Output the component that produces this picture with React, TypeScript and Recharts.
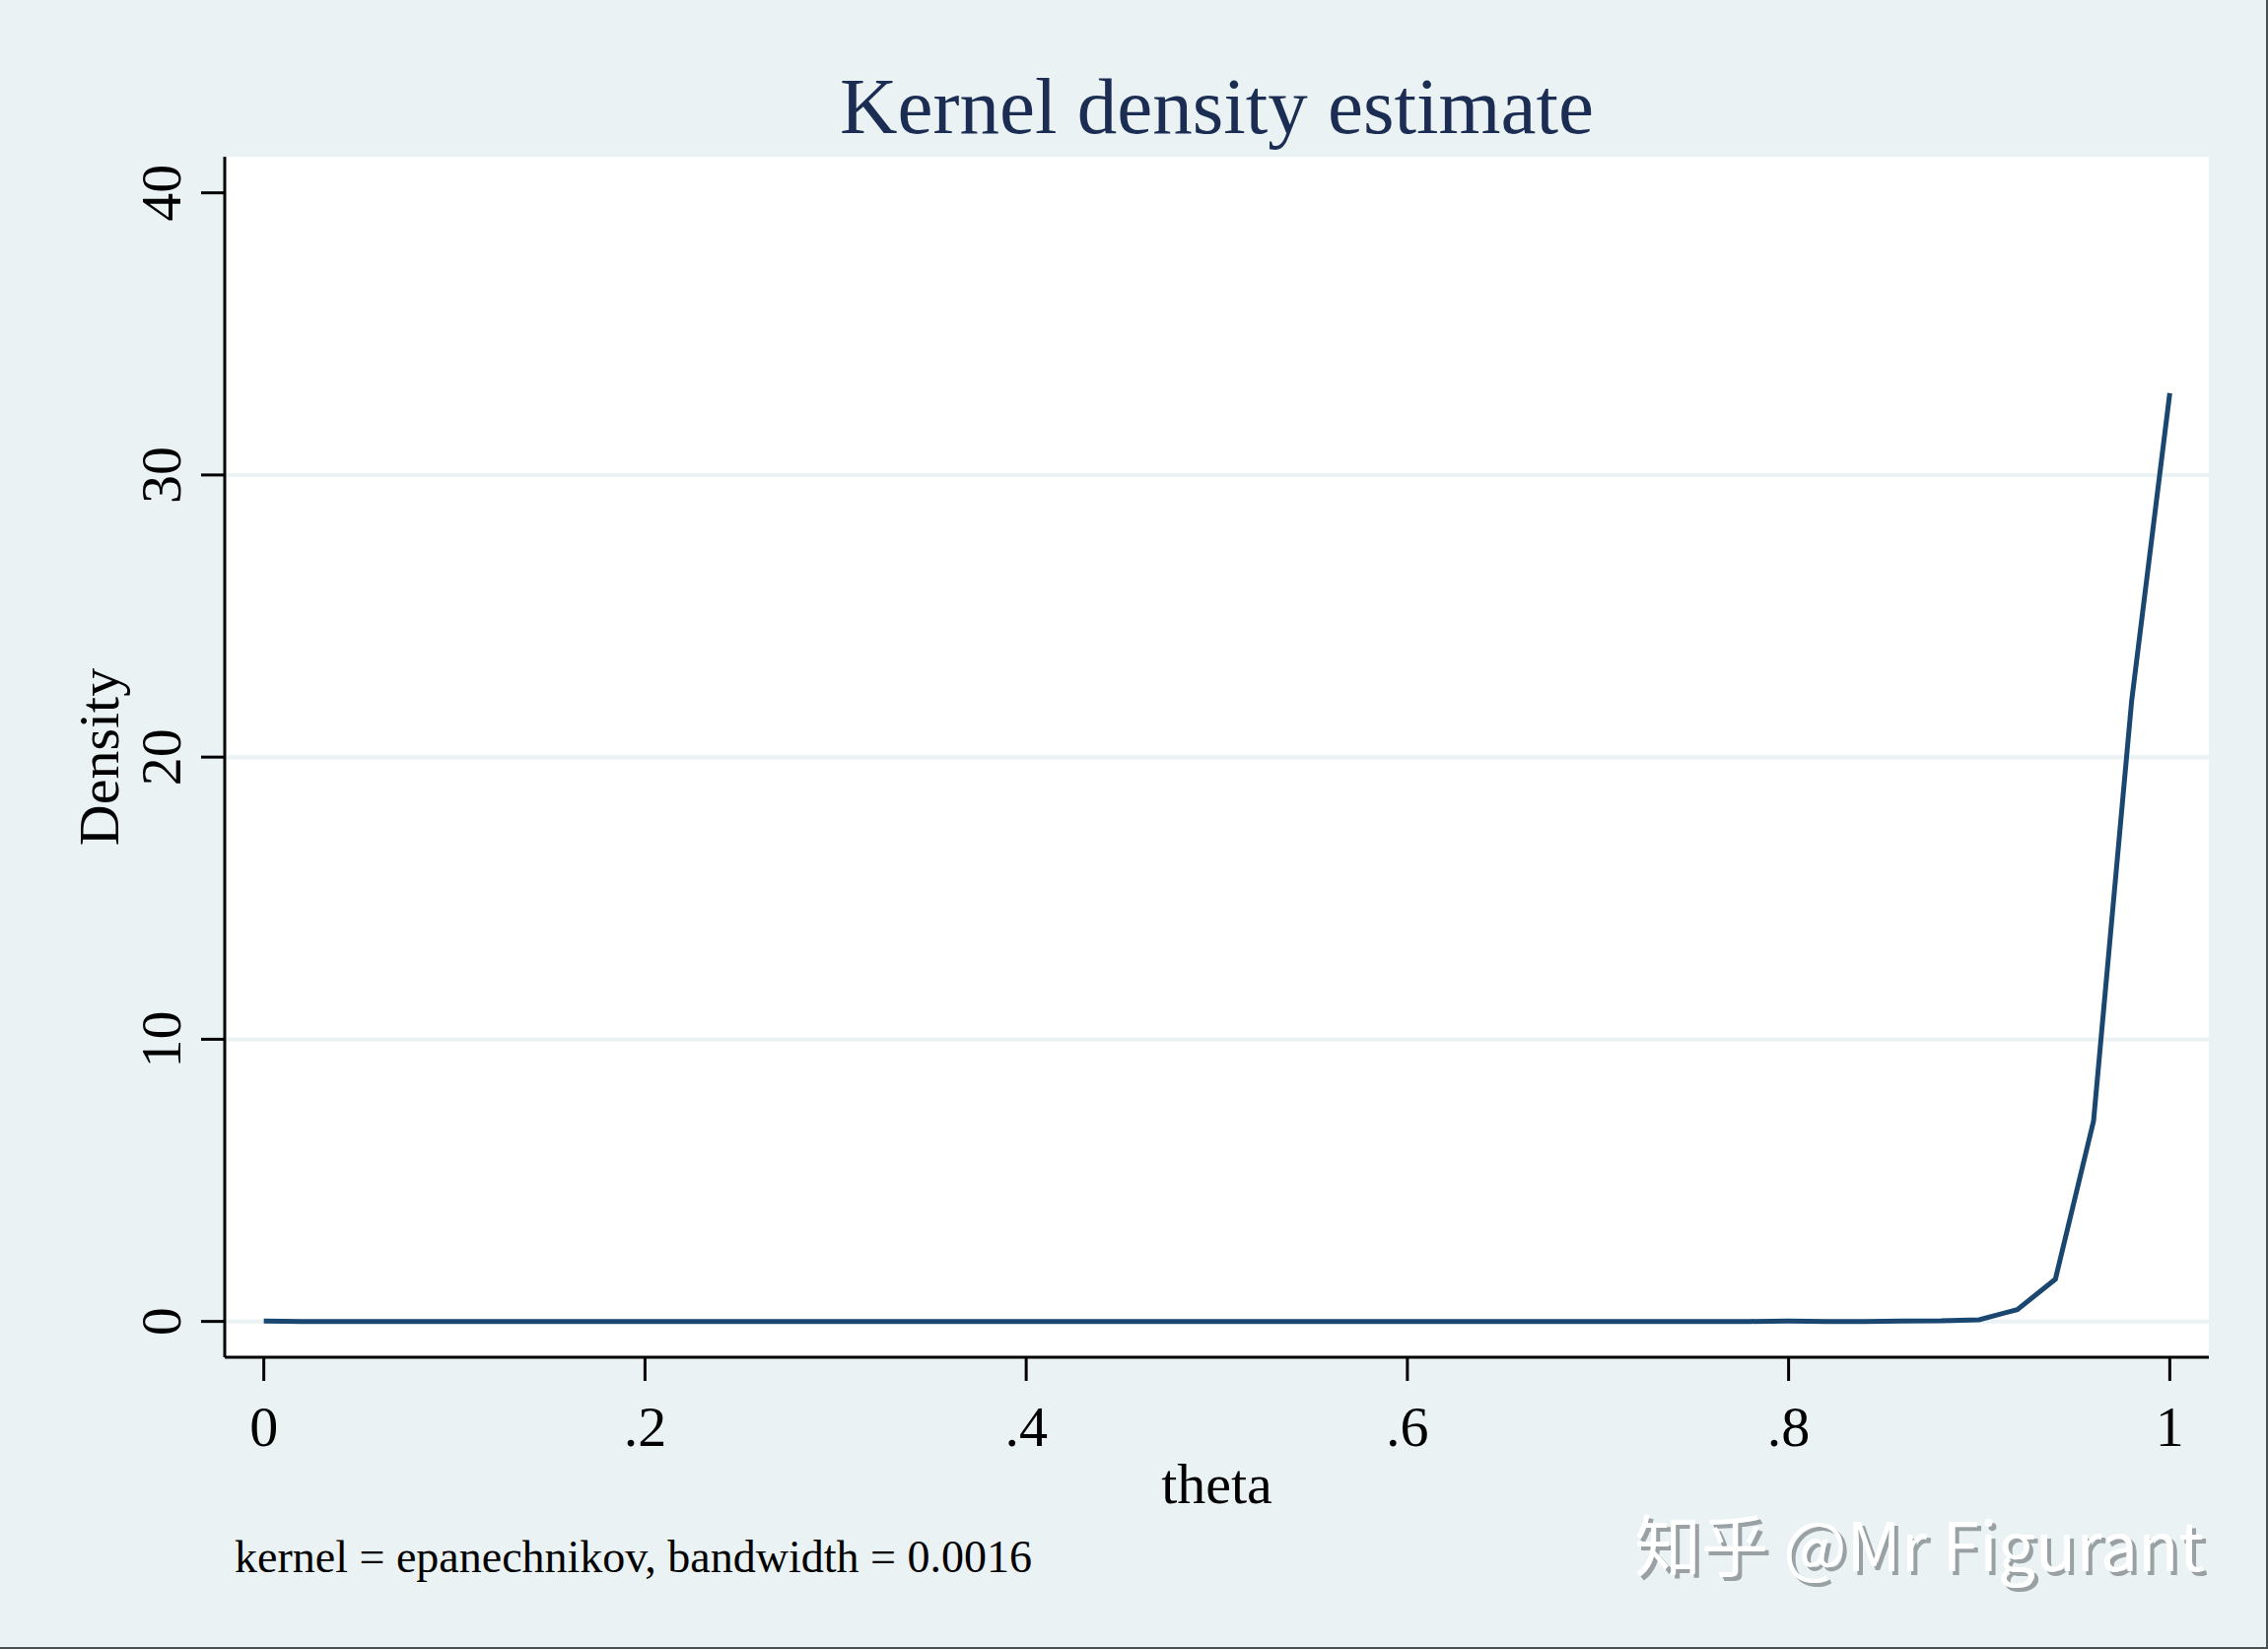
import { CartesianGrid, Line, LineChart, XAxis, YAxis } from "recharts";

const theta = [
  0, 0.02, 0.04, 0.06, 0.08, 0.1, 0.12, 0.14, 0.16, 0.18, 0.2, 0.22, 0.24, 0.26, 0.28, 0.3, 0.32, 0.34,
  0.36, 0.38, 0.4, 0.42, 0.44, 0.46, 0.48, 0.5, 0.52, 0.54, 0.56, 0.58, 0.6, 0.62, 0.64, 0.66, 0.68,
  0.7, 0.72, 0.74, 0.76, 0.78, 0.8, 0.82, 0.84, 0.86, 0.88, 0.9, 0.92, 0.94, 0.96, 0.98, 1,
];
const density = [
  0.01, 0, 0, 0, 0, 0, 0, 0, 0, 0, 0, 0, 0, 0, 0, 0, 0, 0,
  0, 0, 0, 0, 0, 0, 0, 0, 0, 0, 0, 0, 0, 0, 0, 0, 0,
  0, 0, 0, 0, 0, 0.01, 0, 0, 0.01, 0.02, 0.06, 0.42, 1.5, 7.1, 22.0, 32.9,
];
const xTicks = [0, 0.2, 0.4, 0.6, 0.8, 1];
const xTickLabels = ["0", ".2", ".4", ".6", ".8", "1"];
const yTicks = [0, 10, 20, 30, 40];
const yGrid = [0, 10, 20, 30];

const BG = "#eaf2f3";
const SERIF = "'Liberation Serif', 'Times New Roman', serif";

const chartData = theta.map((t, i) => ({ theta: t, density: density[i] }));

function XTick(props: any) {
  const { x, y, payload } = props;
  const idx = xTicks.indexOf(payload.value);
  return (
    <text x={x} y={y} textAnchor="middle" fontFamily={SERIF} fontSize={58} fill="#000">
      {idx >= 0 ? xTickLabels[idx] : payload.value}
    </text>
  );
}

function YTick(props: any) {
  const { x, y, payload } = props;
  return (
    <text
      x={x}
      y={y}
      textAnchor="middle"
      fontFamily={SERIF}
      fontSize={58}
      fill="#000"
      transform={`rotate(-90, ${x}, ${y})`}
    >
      {payload.value}
    </text>
  );
}

export default function App() {
  return (
    <div style={{ position: "absolute", left: 0, top: 0, width: 2301, height: 1673, background: BG, overflow: "hidden" }}>
      <LineChart
        width={2301}
        height={1673}
        data={chartData}
        margin={{ top: 159, right: 60, left: 78, bottom: 146 }}
      >
        <CartesianGrid
          vertical={false}
          horizontalValues={yGrid}
          stroke={BG}
          strokeWidth={4}
          fill="#ffffff"
          fillOpacity={1}
        />
        <XAxis
          type="number"
          dataKey="theta"
          domain={[-0.0205, 1.0205]}
          ticks={xTicks}
          allowDataOverflow
          height={150}
          tickSize={24}
          tickMargin={66}
          tick={<XTick />}
          axisLine={{ stroke: "#000", strokeWidth: 3 }}
          tickLine={{ stroke: "#000", strokeWidth: 3 }}
        />
        <YAxis
          type="number"
          domain={[-1.27, 41.28]}
          ticks={yTicks}
          allowDataOverflow
          width={150}
          tickSize={24}
          tickMargin={21}
          tick={<YTick />}
          axisLine={{ stroke: "#000", strokeWidth: 3 }}
          tickLine={{ stroke: "#000", strokeWidth: 3 }}
        />
        <Line
          type="linear"
          dataKey="density"
          stroke="#1a476f"
          strokeWidth={5}
          dot={false}
          activeDot={false}
          isAnimationActive={false}
        />
      </LineChart>
      <svg
        width={2301}
        height={1673}
        style={{ position: "absolute", left: 0, top: 0, pointerEvents: "none" }}
      >
        <text x={1234.5} y={135} textAnchor="middle" fontFamily={SERIF} fontSize={81} fill="#1c2d54">
          Kernel density estimate
        </text>
        <text x={1234.5} y={1525} textAnchor="middle" fontFamily={SERIF} fontSize={58} fill="#000">
          theta
        </text>
        <text
          x={120}
          y={768}
          textAnchor="middle"
          fontFamily={SERIF}
          fontSize={58}
          fill="#000"
          transform="rotate(-90, 120, 768)"
        >
          Density
        </text>
        <text x={238} y={1595} fontFamily={SERIF} fontSize={46} fill="#000">
          kernel = epanechnikov, bandwidth = 0.0016
        </text>
        <text x={1662} y={1598} fontFamily="'Noto Sans CJK SC', 'Noto Sans', sans-serif" fontSize={68} fill="#9aa1a4">
          知乎 @Mr Figurant
        </text>
        <text x={1658} y={1594} fontFamily="'Noto Sans CJK SC', 'Noto Sans', sans-serif" fontSize={68} fill="#ffffff">
          知乎 @Mr Figurant
        </text>
      </svg>
      <div style={{ position: "absolute", right: 0, top: 0, width: 2, height: 1673, background: "#4a4f52" }} />
      <div style={{ position: "absolute", left: 0, bottom: 0, width: 2301, height: 2, background: "#4a4f52" }} />
    </div>
  );
}
